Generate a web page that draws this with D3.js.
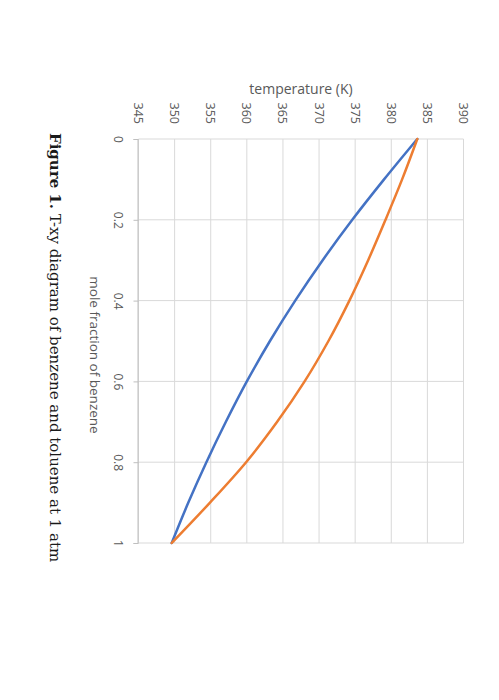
<!DOCTYPE html>
<html>
<head>
<meta charset="utf-8">
<script src="https://cdn.jsdelivr.net/npm/d3@7/dist/d3.min.js"></script>
<style>
  html, body { margin: 0; padding: 0; background: #fff; }
  svg { display: block; }
</style>
</head>
<body>
<svg id="chart" width="499" height="700"></svg>
<script>
// ---- data ----
const moleFractions = [0, 0.1, 0.2, 0.3, 0.4, 0.5, 0.6, 0.7, 0.8, 0.9, 1.0];
const bubbleT = [383.6, 379.0, 374.6, 370.5, 366.7, 363.2, 360.0, 357.1, 354.4, 351.9, 349.6];
const dewT    = [383.6, 381.5, 379.2, 376.8, 374.2, 371.3, 368.0, 364.2, 359.9, 354.9, 349.6];
const tempTicks = [345, 350, 355, 360, 365, 370, 375, 380, 385, 390];
const fracTicks = [0, 0.2, 0.4, 0.6, 0.8, 1];
const fracTickLabels = ["0", "0.2", "0.4", "0.6", "0.8", "1"];
const yTitle = "temperature (K)";
const xTitle = "mole fraction of benzene";
const captionBold = "Figure 1.";
const captionText = " T-xy diagram of benzene and toluene at 1 atm";

// ---- layout: chart drawn in its own frame, whole figure turned 90° clockwise ----
const W = 404, H = 325;
const svg = d3.select("#chart");
const g = svg.append("g").attr("transform", "translate(463.5,139) rotate(90)");

const x = d3.scaleLinear().domain([0, 1]).range([0, W]);
const y = d3.scaleLinear().domain([345, 390]).range([H, 0]);

const gridColor = "#d9d9d9";
const textColor = "#595959";
const font = "'Open Sans', 'Liberation Sans', sans-serif";

// horizontal gridlines (temperature)
g.append("g").selectAll("line").data(tempTicks).join("line")
  .attr("x1", 0).attr("x2", W)
  .attr("y1", d => y(d)).attr("y2", d => y(d))
  .attr("stroke", gridColor).attr("stroke-width", 1);

// vertical gridlines (mole fraction)
g.append("g").selectAll("line").data(fracTicks).join("line")
  .attr("x1", d => x(d)).attr("x2", d => x(d))
  .attr("y1", 0).attr("y2", H)
  .attr("stroke", gridColor).attr("stroke-width", 1);

// bottom axis with outside ticks
const xAxis = g.append("g").attr("transform", `translate(0,${H})`)
  .call(d3.axisBottom(x).tickValues(fracTicks).tickSize(5).tickFormat((d, i) => fracTickLabels[i]));
xAxis.select(".domain").attr("stroke", "#bfbfbf").attr("stroke-width", 1);
xAxis.selectAll(".tick line").attr("stroke", "#bfbfbf");
xAxis.selectAll(".tick text")
  .attr("y", 20).attr("dy", "0.35em")
  .attr("fill", textColor).style("font-family", font).style("font-size", "12px");

// left axis labels (no line)
const yAxis = g.append("g")
  .call(d3.axisLeft(y).tickValues(tempTicks).tickSize(0).tickPadding(15));
yAxis.select(".domain").remove();
yAxis.selectAll(".tick text")
  .attr("fill", textColor).style("font-family", font).style("font-size", "12.5px");

// series
const line = d3.line().curve(d3.curveMonotoneX);
g.append("path")
  .attr("d", line(moleFractions.map((m, i) => [x(m), y(bubbleT[i])])))
  .attr("fill", "none").attr("stroke", "#4472C4").attr("stroke-width", 2.5)
  .attr("stroke-linecap", "round");
g.append("path")
  .attr("d", line(moleFractions.map((m, i) => [x(m), y(dewT[i])])))
  .attr("fill", "none").attr("stroke", "#ED7D31").attr("stroke-width", 2.5)
  .attr("stroke-linecap", "round");

// axis titles
g.append("text")
  .attr("transform", `translate(-51,${H / 2}) rotate(-90)`)
  .attr("text-anchor", "middle").attr("dominant-baseline", "central")
  .attr("fill", textColor).style("font-family", font).style("font-size", "14px")
  .text(yTitle);

g.append("text")
  .attr("x", 216).attr("y", H + 43.5)
  .attr("text-anchor", "middle").attr("dominant-baseline", "central")
  .attr("fill", textColor).style("font-family", font).style("font-size", "13.5px")
  .text(xTitle);

// caption
const cap = g.append("text")
  .attr("x", -6).attr("y", H + 83.5)
  .attr("dominant-baseline", "central")
  .attr("fill", "#1a1a1a").style("font-family", "'DejaVu Serif', 'Liberation Serif', serif")
  .style("font-size", "15px");
cap.append("tspan").attr("font-weight", "bold").text(captionBold);
cap.append("tspan").text(captionText);
</script>
</body>
</html>
